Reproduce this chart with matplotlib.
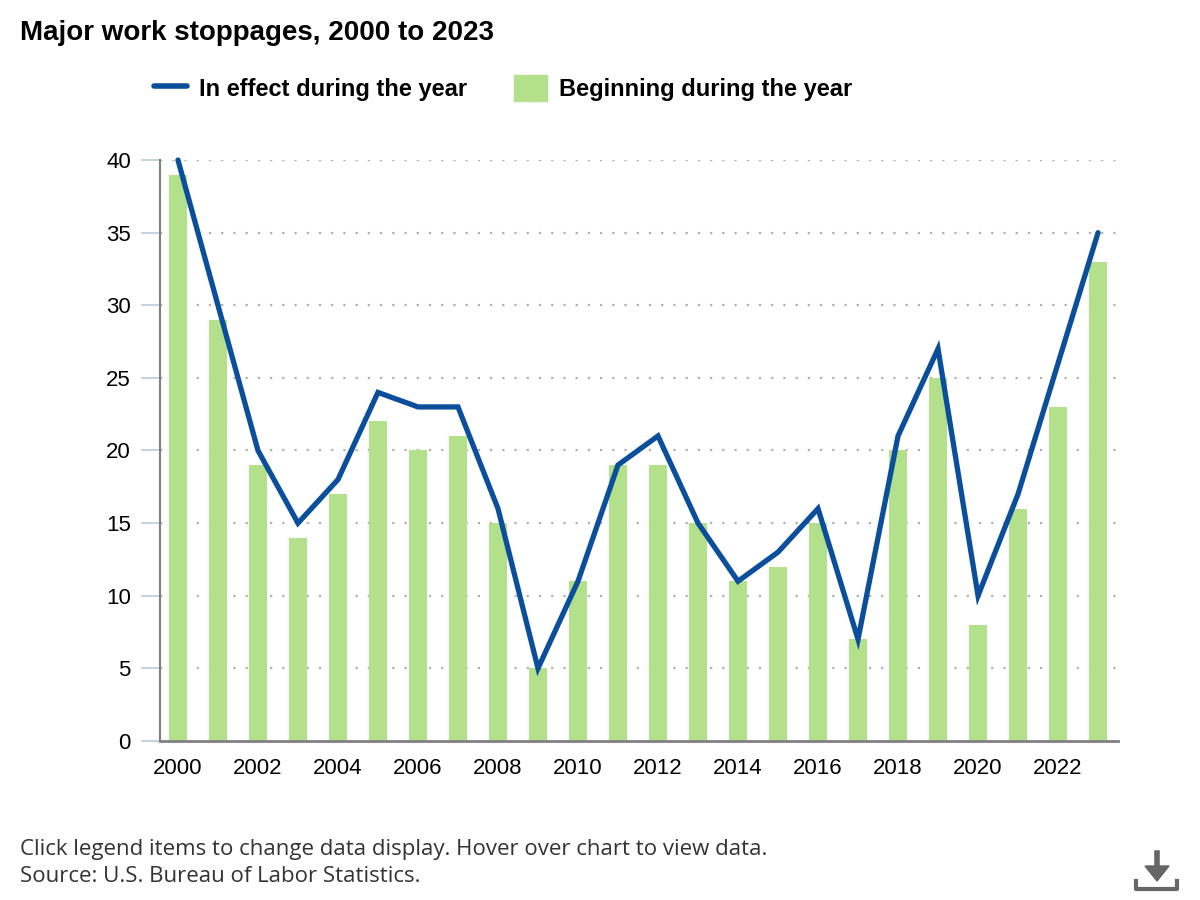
import matplotlib.pyplot as plt
from matplotlib.lines import Line2D
from matplotlib.patches import Patch

years = list(range(2000, 2024))
# Beginning during the year (bars)
beginning = [39, 29, 19, 14, 17, 22, 20, 21, 15, 5, 11, 19,
             19, 15, 11, 12, 15, 7, 20, 25, 8, 16, 23, 33]
# In effect during the year (line)
in_effect = [40, 30, 20, 15, 18, 24, 23, 23, 16, 5, 11, 19,
             21, 15, 11, 13, 16, 7, 21, 27, 10, 17, 26, 35]
yticks = [0, 5, 10, 15, 20, 25, 30, 35, 40]
xticks = list(range(2000, 2024, 2))

plt.rcParams['font.family'] = ['Liberation Sans', 'DejaVu Sans']

fig = plt.figure(figsize=(12, 9), dpi=100)
ax = fig.add_axes([0.1333, 0.1767, 0.7984, 0.6455])

ax.bar(years, beginning, width=0.45, color="#b3e08b", zorder=2)
ax.plot(years, in_effect, color="#0b4f9c", lw=3.8, zorder=3,
        solid_capstyle="round", solid_joinstyle="miter", clip_on=False)

ax.set_xlim(2000 - 0.45, 2023 + 0.5)
ax.set_ylim(0, 40)
ax.set_yticks(yticks)
ax.set_xticks(xticks)
ax.tick_params(axis="y", length=14, width=1.5, color="#c5d3e2", labelsize=16, pad=7)
ax.tick_params(axis="x", length=0, labelsize=16, pad=12)

for y in yticks[1:]:
    ax.axhline(y, color="#b0b0b0", lw=1.6, ls=(0, (1, 4.5)), zorder=1)

for s in ["top", "right"]:
    ax.spines[s].set_visible(False)
ax.spines["left"].set_color("#808080")
ax.spines["left"].set_linewidth(1.5)
ax.spines["bottom"].set_color("#808080")
ax.spines["bottom"].set_linewidth(2)
ax.spines["bottom"].set_zorder(4)

fig.text(20 / 1200, 1 - 33 / 900, "Major work stoppages, 2000 to 2023",
         fontsize=20, fontweight="bold", va="center", ha="left")

handles = [Line2D([0], [0], color="#0b4f9c", lw=4, solid_capstyle="round"),
           Patch(color="#b3e08b")]
fig.legend(handles, ["In effect during the year", "Beginning during the year"],
           loc="center", bbox_to_anchor=(503 / 1200, 1 - 88 / 900), ncol=2,
           frameon=False, prop={"size": 17, "weight": "bold"},
           handlelength=1.4, handleheight=1.3, columnspacing=2.0, handletextpad=0.5)

fig.text(20 / 1200, 1 - 850 / 900,
         "Click legend items to change data display. Hover over chart to view data.",
         fontsize=16, color="#333333", va="center", family=["Open Sans", "DejaVu Sans"])
fig.text(20 / 1200, 1 - 877 / 900, "Source: U.S. Bureau of Labor Statistics.",
         fontsize=16, color="#333333", va="center", family=["Open Sans", "DejaVu Sans"])

# download icon
icon_color = "#666666"
fig.add_artist(Line2D([1157 / 1200, 1157 / 1200], [1 - 853 / 900, 1 - 868 / 900],
                      color=icon_color, lw=4, transform=fig.transFigure))
fig.add_artist(plt.Polygon([[1145 / 1200, 1 - 866 / 900], [1169 / 1200, 1 - 866 / 900],
                            [1157 / 1200, 1 - 881 / 900]], color=icon_color,
                           transform=fig.transFigure))
fig.add_artist(Line2D([1136 / 1200, 1136 / 1200, 1177 / 1200, 1177 / 1200],
                      [1 - 881 / 900, 1 - 889 / 900, 1 - 889 / 900, 1 - 881 / 900],
                      color=icon_color, lw=3, transform=fig.transFigure))

fig.savefig("out.png", dpi=100)
